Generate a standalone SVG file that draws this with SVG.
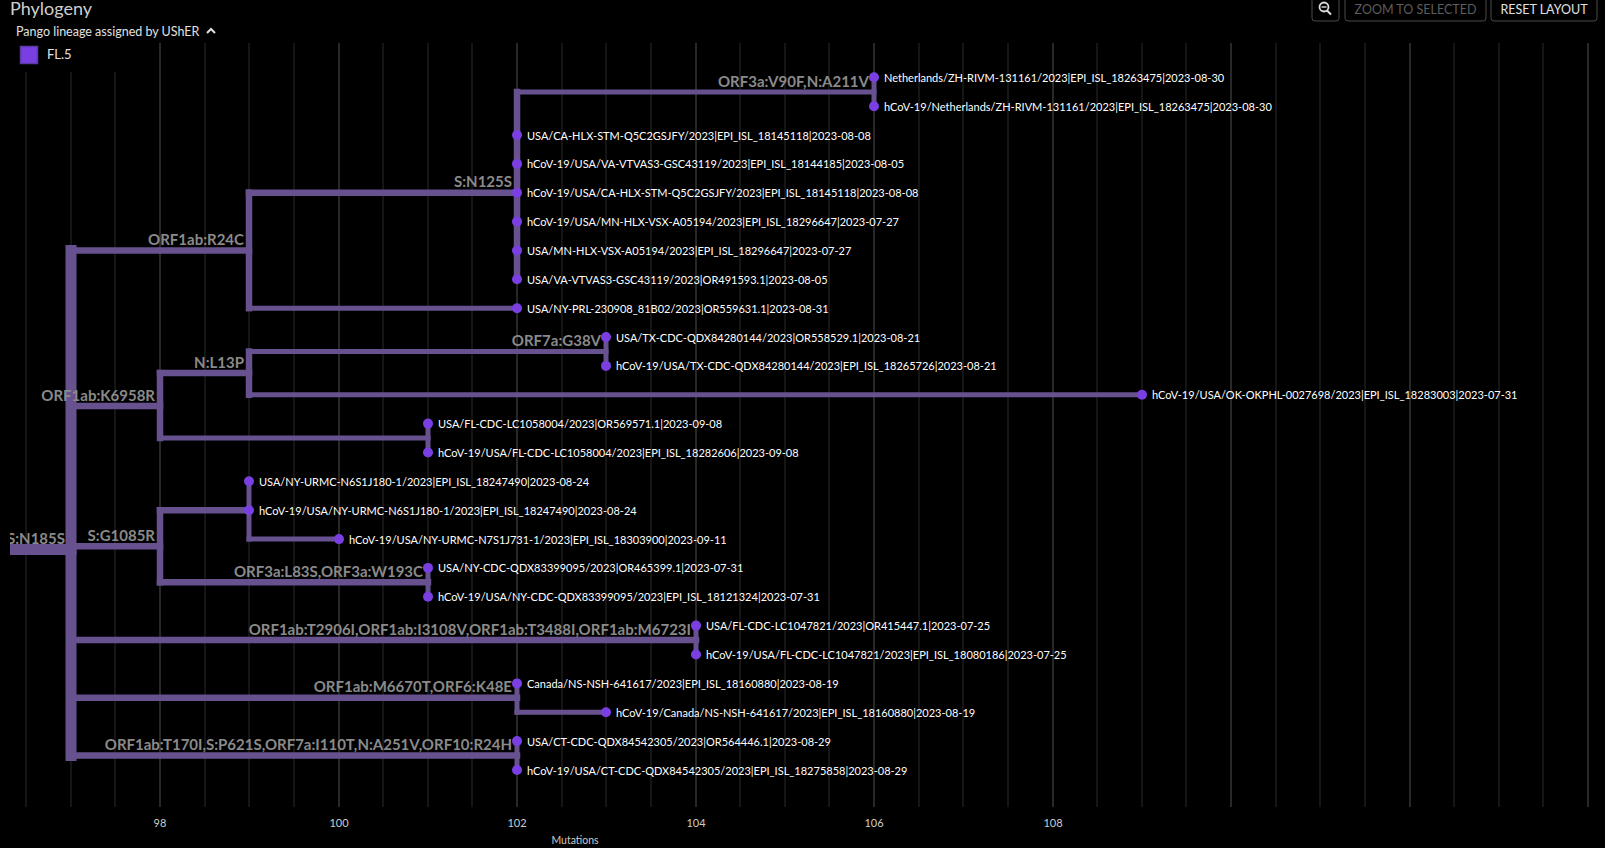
<svg xmlns="http://www.w3.org/2000/svg" width="1605" height="848" viewBox="0 0 1605 848">
<style>
.g{stroke:#1d1d1d;stroke-width:1.5}
.G{stroke:#363636;stroke-width:1.5}
.b{stroke:#67528f;fill:none;stroke-linecap:square}
.t{stroke-width:11}
.i{stroke-width:6.5}
.l{stroke-width:5}
.d{fill:#7a3fe3}
.m{font-family:Lato,"Liberation Sans",sans-serif;font-weight:bold;font-size:15px;fill:#8a8a8a;text-anchor:end}
.n{font-family:Lato,"Liberation Sans",sans-serif;font-size:11px;fill:#ffffff;dominant-baseline:central}
.a{font-family:Lato,"Liberation Sans",sans-serif;font-size:11px;fill:#cccccc;text-anchor:middle}
.btn{fill:none;stroke:#4a4a4a;stroke-width:1}
</style>
<defs><clipPath id="c"><rect x="10" y="0" width="1595" height="848"/></clipPath></defs>
<rect width="1605" height="848" fill="#000"/>
<g id="grid">
<line class="g" x1="26" y1="72" x2="26" y2="807"/><line class="g" x1="71" y1="72" x2="71" y2="807"/><line class="g" x1="115" y1="72" x2="115" y2="807"/>
<line class="G" x1="160" y1="43" x2="160" y2="807"/><line class="g" x1="205" y1="43" x2="205" y2="807"/><line class="g" x1="249" y1="43" x2="249" y2="807"/><line class="g" x1="294" y1="43" x2="294" y2="807"/>
<line class="G" x1="339" y1="43" x2="339" y2="807"/><line class="g" x1="383" y1="43" x2="383" y2="807"/><line class="g" x1="428" y1="43" x2="428" y2="807"/><line class="g" x1="472" y1="43" x2="472" y2="807"/>
<line class="G" x1="517" y1="43" x2="517" y2="807"/><line class="g" x1="562" y1="43" x2="562" y2="807"/><line class="g" x1="606" y1="43" x2="606" y2="807"/><line class="g" x1="651" y1="43" x2="651" y2="807"/>
<line class="G" x1="696" y1="43" x2="696" y2="807"/><line class="g" x1="740" y1="43" x2="740" y2="807"/><line class="g" x1="785" y1="43" x2="785" y2="807"/><line class="g" x1="829" y1="43" x2="829" y2="807"/>
<line class="G" x1="874" y1="43" x2="874" y2="807"/><line class="g" x1="919" y1="43" x2="919" y2="807"/><line class="g" x1="963" y1="43" x2="963" y2="807"/><line class="g" x1="1008" y1="43" x2="1008" y2="807"/>
<line class="G" x1="1053" y1="43" x2="1053" y2="807"/><line class="g" x1="1097" y1="43" x2="1097" y2="807"/><line class="g" x1="1142" y1="43" x2="1142" y2="807"/><line class="g" x1="1186" y1="43" x2="1186" y2="807"/>
<line class="G" x1="1231" y1="43" x2="1231" y2="807"/><line class="g" x1="1276" y1="43" x2="1276" y2="807"/><line class="g" x1="1320" y1="43" x2="1320" y2="807"/><line class="g" x1="1365" y1="43" x2="1365" y2="807"/>
<line class="G" x1="1410" y1="43" x2="1410" y2="807"/><line class="g" x1="1454" y1="43" x2="1454" y2="807"/><line class="g" x1="1499" y1="43" x2="1499" y2="807"/><line class="g" x1="1543" y1="43" x2="1543" y2="807"/>
<line class="G" x1="1588" y1="43" x2="1588" y2="807"/>
</g>
<g id="axis">
<text class="a" x="160" y="827">98</text><text class="a" x="339" y="827">100</text><text class="a" x="517" y="827">102</text>
<text class="a" x="696" y="827">104</text><text class="a" x="874" y="827">106</text><text class="a" x="1053" y="827">108</text>
<text class="a" x="575" y="844" style="font-size:10.5px">Mutations</text>
</g>
<g id="header">
<text x="10" y="15" style="font-family:Lato,'Liberation Sans',sans-serif;font-size:18px;fill:#cfcfcf">Phylogeny</text>
<text x="16" y="36" style="font-family:Lato,'Liberation Sans',sans-serif;font-size:12.5px;fill:#e0e0e0">Pango lineage assigned by UShER</text>
<path d="M207 33 L211 29 L215 33" fill="none" stroke="#e0e0e0" stroke-width="2"/>
<rect x="20.5" y="46.5" width="17" height="17" fill="#7a3fe3" stroke="#5b3aa5" stroke-width="1.5"/>
<text x="47" y="59" style="font-family:Lato,'Liberation Sans',sans-serif;font-size:13px;fill:#e0e0e0">FL.5</text>
<rect class="btn" x="1312" y="-4" width="27" height="25" rx="3"/>
<circle cx="1324" cy="7" r="4.5" fill="none" stroke="#ddd" stroke-width="1.8"/>
<line x1="1327" y1="10.5" x2="1331" y2="14.5" stroke="#ddd" stroke-width="2"/>
<line x1="1321.5" y1="7" x2="1326.5" y2="7" stroke="#ddd" stroke-width="1.4"/>
<rect class="btn" x="1345" y="-4" width="141" height="25" rx="3"/>
<text x="1415.5" y="14" style="font-family:Lato,'Liberation Sans',sans-serif;font-size:12.5px;fill:#5c5c5c;text-anchor:middle">ZOOM TO SELECTED</text>
<rect class="btn" x="1491" y="-4" width="106" height="25" rx="3"/>
<text x="1544" y="14" style="font-family:Lato,'Liberation Sans',sans-serif;font-size:12.5px;fill:#e0e0e0;text-anchor:middle">RESET LAYOUT</text>
</g>
<g id="connectors" clip-path="url(#c)">
<line class="b t" x1="5" y1="549.6" x2="71" y2="549.6"/>
<line class="b t" x1="71" y1="250.4" x2="71" y2="755.5"/>
<line class="b i" x1="71" y1="250.4" x2="249" y2="250.4"/>
<line class="b i" x1="249" y1="192.7" x2="249" y2="308.2"/>
<line class="b i" x1="249" y1="192.7" x2="517" y2="192.7"/>
<line class="b i" x1="517" y1="92" x2="517" y2="279.3"/>
<line class="b l" x1="517" y1="92" x2="874" y2="92"/>
<line class="b l" x1="874" y1="77.3" x2="874" y2="106.2"/>
<line class="b l" x1="249" y1="308.2" x2="517" y2="308.2"/>
<line class="b i" x1="71" y1="406" x2="160" y2="406"/>
<line class="b i" x1="160" y1="373.1" x2="160" y2="438"/>
<line class="b i" x1="160" y1="373.1" x2="249" y2="373.1"/>
<line class="b i" x1="249" y1="351.5" x2="249" y2="394.8"/>
<line class="b l" x1="249" y1="351.5" x2="606" y2="351.5"/>
<line class="b l" x1="606" y1="337" x2="606" y2="365.9"/>
<line class="b l" x1="249" y1="394.8" x2="1142" y2="394.8"/>
<line class="b l" x1="160" y1="438" x2="428" y2="438"/>
<line class="b l" x1="428" y1="423.6" x2="428" y2="452.5"/>
<line class="b i" x1="71" y1="546.3" x2="160" y2="546.3"/>
<line class="b i" x1="160" y1="510.2" x2="160" y2="582.3"/>
<line class="b i" x1="160" y1="510.2" x2="249" y2="510.2"/>
<line class="b l" x1="249" y1="481.3" x2="249" y2="539.1"/>
<line class="b l" x1="249" y1="539.1" x2="339" y2="539.1"/>
<line class="b i" x1="160" y1="582.3" x2="428" y2="582.3"/>
<line class="b l" x1="428" y1="567.9" x2="428" y2="596.8"/>
<line class="b i" x1="71" y1="640" x2="696" y2="640"/>
<line class="b l" x1="696" y1="625.6" x2="696" y2="654.5"/>
<line class="b i" x1="71" y1="697.8" x2="517" y2="697.8"/>
<line class="b l" x1="517" y1="683.4" x2="517" y2="712.2"/>
<line class="b l" x1="517" y1="712.2" x2="606" y2="712.2"/>
<line class="b i" x1="71" y1="755.5" x2="517" y2="755.5"/>
<line class="b l" x1="517" y1="741.1" x2="517" y2="770"/>
</g>
<g id="mutation-labels" clip-path="url(#c)">
<text class="m" x="65" y="544">S:N185S</text>
<text class="m" x="244" y="245">ORF1ab:R24C</text>
<text class="m" x="512" y="187">S:N125S</text>
<text class="m" x="869" y="87">ORF3a:V90F,N:A211V</text>
<text class="m" x="155" y="401">ORF1ab:K6958R</text>
<text class="m" x="244" y="368">N:L13P</text>
<text class="m" x="601" y="346">ORF7a:G38V</text>
<text class="m" x="155" y="541">S:G1085R</text>
<text class="m" x="423" y="577">ORF3a:L83S,ORF3a:W193C</text>
<text class="m" x="691" y="635">ORF1ab:T2906I,ORF1ab:I3108V,ORF1ab:T3488I,ORF1ab:M6723I</text>
<text class="m" x="512" y="692">ORF1ab:M6670T,ORF6:K48E</text>
<text class="m" x="512" y="750">ORF1ab:T170I,S:P621S,ORF7a:I110T,N:A251V,ORF10:R24H</text>
</g>
<g id="leaf-0"><circle class="d" cx="874" cy="77.3" r="5"/><text class="n" x="884" y="77.3">Netherlands/ZH-RIVM-131161/2023|EPI_ISL_18263475|2023-08-30</text></g>
<g id="leaf-1"><circle class="d" cx="874" cy="106.2" r="5"/><text class="n" x="884" y="106.2">hCoV-19/Netherlands/ZH-RIVM-131161/2023|EPI_ISL_18263475|2023-08-30</text></g>
<g id="leaf-2"><circle class="d" cx="517" cy="135" r="5"/><text class="n" x="527" y="135">USA/CA-HLX-STM-Q5C2GSJFY/2023|EPI_ISL_18145118|2023-08-08</text></g>
<g id="leaf-3"><circle class="d" cx="517" cy="163.9" r="5"/><text class="n" x="527" y="163.9">hCoV-19/USA/VA-VTVAS3-GSC43119/2023|EPI_ISL_18144185|2023-08-05</text></g>
<g id="leaf-4"><circle class="d" cx="517" cy="192.7" r="5"/><text class="n" x="527" y="192.7">hCoV-19/USA/CA-HLX-STM-Q5C2GSJFY/2023|EPI_ISL_18145118|2023-08-08</text></g>
<g id="leaf-5"><circle class="d" cx="517" cy="221.6" r="5"/><text class="n" x="527" y="221.6">hCoV-19/USA/MN-HLX-VSX-A05194/2023|EPI_ISL_18296647|2023-07-27</text></g>
<g id="leaf-6"><circle class="d" cx="517" cy="250.5" r="5"/><text class="n" x="527" y="250.5">USA/MN-HLX-VSX-A05194/2023|EPI_ISL_18296647|2023-07-27</text></g>
<g id="leaf-7"><circle class="d" cx="517" cy="279.3" r="5"/><text class="n" x="527" y="279.3">USA/VA-VTVAS3-GSC43119/2023|OR491593.1|2023-08-05</text></g>
<g id="leaf-8"><circle class="d" cx="517" cy="308.2" r="5"/><text class="n" x="527" y="308.2">USA/NY-PRL-230908_81B02/2023|OR559631.1|2023-08-31</text></g>
<g id="leaf-9"><circle class="d" cx="606" cy="337" r="5"/><text class="n" x="616" y="337">USA/TX-CDC-QDX84280144/2023|OR558529.1|2023-08-21</text></g>
<g id="leaf-10"><circle class="d" cx="606" cy="365.9" r="5"/><text class="n" x="616" y="365.9">hCoV-19/USA/TX-CDC-QDX84280144/2023|EPI_ISL_18265726|2023-08-21</text></g>
<g id="leaf-11"><circle class="d" cx="1142" cy="394.8" r="5"/><text class="n" x="1152" y="394.8">hCoV-19/USA/OK-OKPHL-0027698/2023|EPI_ISL_18283003|2023-07-31</text></g>
<g id="leaf-12"><circle class="d" cx="428" cy="423.6" r="5"/><text class="n" x="438" y="423.6">USA/FL-CDC-LC1058004/2023|OR569571.1|2023-09-08</text></g>
<g id="leaf-13"><circle class="d" cx="428" cy="452.5" r="5"/><text class="n" x="438" y="452.5">hCoV-19/USA/FL-CDC-LC1058004/2023|EPI_ISL_18282606|2023-09-08</text></g>
<g id="leaf-14"><circle class="d" cx="249" cy="481.3" r="5"/><text class="n" x="259" y="481.3">USA/NY-URMC-N6S1J180-1/2023|EPI_ISL_18247490|2023-08-24</text></g>
<g id="leaf-15"><circle class="d" cx="249" cy="510.2" r="5"/><text class="n" x="259" y="510.2">hCoV-19/USA/NY-URMC-N6S1J180-1/2023|EPI_ISL_18247490|2023-08-24</text></g>
<g id="leaf-16"><circle class="d" cx="339" cy="539.1" r="5"/><text class="n" x="349" y="539.1">hCoV-19/USA/NY-URMC-N7S1J731-1/2023|EPI_ISL_18303900|2023-09-11</text></g>
<g id="leaf-17"><circle class="d" cx="428" cy="567.9" r="5"/><text class="n" x="438" y="567.9">USA/NY-CDC-QDX83399095/2023|OR465399.1|2023-07-31</text></g>
<g id="leaf-18"><circle class="d" cx="428" cy="596.8" r="5"/><text class="n" x="438" y="596.8">hCoV-19/USA/NY-CDC-QDX83399095/2023|EPI_ISL_18121324|2023-07-31</text></g>
<g id="leaf-19"><circle class="d" cx="696" cy="625.6" r="5"/><text class="n" x="706" y="625.6">USA/FL-CDC-LC1047821/2023|OR415447.1|2023-07-25</text></g>
<g id="leaf-20"><circle class="d" cx="696" cy="654.5" r="5"/><text class="n" x="706" y="654.5">hCoV-19/USA/FL-CDC-LC1047821/2023|EPI_ISL_18080186|2023-07-25</text></g>
<g id="leaf-21"><circle class="d" cx="517" cy="683.4" r="5"/><text class="n" x="527" y="683.4">Canada/NS-NSH-641617/2023|EPI_ISL_18160880|2023-08-19</text></g>
<g id="leaf-22"><circle class="d" cx="606" cy="712.2" r="5"/><text class="n" x="616" y="712.2">hCoV-19/Canada/NS-NSH-641617/2023|EPI_ISL_18160880|2023-08-19</text></g>
<g id="leaf-23"><circle class="d" cx="517" cy="741.1" r="5"/><text class="n" x="527" y="741.1">USA/CT-CDC-QDX84542305/2023|OR564446.1|2023-08-29</text></g>
<g id="leaf-24"><circle class="d" cx="517" cy="770" r="5"/><text class="n" x="527" y="770">hCoV-19/USA/CT-CDC-QDX84542305/2023|EPI_ISL_18275858|2023-08-29</text></g>
</svg>
